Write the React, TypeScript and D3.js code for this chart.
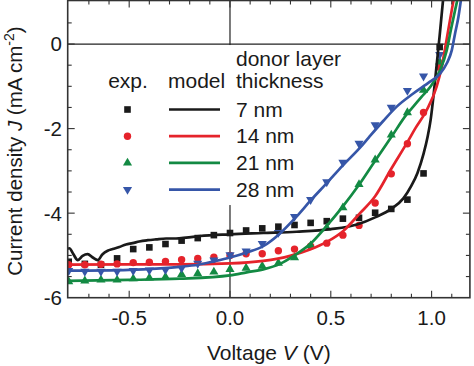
import React, { useEffect, useRef } from "react";
import * as d3 from "d3";

// measured points, voltage in V
const voltages = [
  -0.8, -0.72, -0.64, -0.56, -0.48, -0.4, -0.32, -0.24, -0.16, -0.08, 0, 0.08,
  0.16, 0.24, 0.32, 0.4, 0.48, 0.56, 0.64, 0.72, 0.8, 0.88, 0.96, 1.04,
];
// current density in mA cm^-2
const exp7 = [
  -5.15, -5.2, -5.22, -5.07, -4.85, -4.81, -4.73, -4.65, -4.59, -4.52, -4.47,
  -4.41, -4.36, -4.32, -4.28, -4.23, -4.19, -4.13, -4.11, -3.99, -3.9, -3.68,
  -3.06, -0.07,
];
const exp14 = [
  -5.22, -5.22, -5.21, -5.2, -5.17, -5.16, -5.14, -5.1, -5.07, -5.04, -5.0,
  -4.96, -4.96, -4.89, -4.85, -4.78, -4.71, -4.52, -4.29, -3.76, -3.07, -2.36,
  -1.62, -0.55,
];
const exp21 = [
  -5.62, -5.6, -5.58, -5.58, -5.55, -5.53, -5.51, -5.45, -5.43, -5.39, -5.33,
  -5.3, -5.25, -5.18, -5.05, -4.77, -4.35, -3.87, -3.32, -2.74, -2.15, -1.62,
  -1.09, -0.42,
];
const exp28 = [
  -5.36, -5.38, -5.38, -5.38, -5.36, -5.35, -5.34, -5.3, -5.19, -5.11, -4.99,
  -4.9, -4.72, -4.46, -4.08, -3.68, -3.26, -2.8, -2.35, -1.91, -1.5, -1.1,
  -0.76, -0.25,
];

// model curves [V, J]
const model7: [number, number][] = [
  [-0.81, -4.85], [-0.797, -4.83], [-0.777, -4.97], [-0.755, -5.11],
  [-0.731, -5.01], [-0.706, -4.97], [-0.681, -5.05], [-0.656, -5.11],
  [-0.632, -4.97], [-0.607, -4.89], [-0.582, -4.85], [-0.549, -4.8],
  [-0.516, -4.74], [-0.483, -4.71], [-0.45, -4.67], [-0.408, -4.64],
  [-0.367, -4.62], [-0.317, -4.6], [-0.268, -4.6], [-0.218, -4.58],
  [-0.149, -4.54], [0, -4.5], [0.165, -4.47], [0.33, -4.44], [0.5, -4.38],
  [0.63, -4.27], [0.72, -4.1], [0.8, -3.9], [0.86, -3.65], [0.9, -3.35],
  [0.93, -3.05], [0.96, -2.6], [0.98, -2.2], [0.995, -1.8], [1.01, -1.2],
  [1.025, -0.5], [1.04, 0.2], [1.06, 1.2],
];
const model14: [number, number][] = [
  [-0.81, -5.22], [-0.4, -5.21], [-0.25, -5.21], [0, -5.19], [0.165, -5.13],
  [0.298, -5.01], [0.397, -4.86], [0.48, -4.68], [0.562, -4.42],
  [0.645, -4.0], [0.72, -3.6], [0.8, -2.95], [0.88, -2.32], [0.92, -1.99],
  [0.976, -1.56], [1.025, -1.01], [1.05, -0.54], [1.071, 0.01],
  [1.091, 0.56], [1.115, 1.2],
];
const model21: [number, number][] = [
  [-0.81, -5.6], [-0.5, -5.58], [-0.25, -5.55], [0, -5.47], [0.083, -5.4],
  [0.165, -5.33], [0.248, -5.2], [0.32, -5.0], [0.4, -4.72], [0.48, -4.3],
  [0.56, -3.84], [0.64, -3.33], [0.72, -2.76], [0.8, -2.2], [0.88, -1.64],
  [0.909, -1.48], [0.95, -1.25], [0.992, -1.02], [1.042, -0.62],
  [1.075, -0.15], [1.095, 0.32], [1.116, 0.79], [1.135, 1.2],
];
const model28: [number, number][] = [
  [-0.81, -5.36], [-0.5, -5.34], [-0.25, -5.27], [-0.16, -5.22],
  [-0.08, -5.14], [0, -5.05], [0.083, -4.93], [0.165, -4.78], [0.248, -4.48],
  [0.33, -4.08], [0.4, -3.7], [0.48, -3.29], [0.56, -2.87], [0.645, -2.45],
  [0.69, -2.2], [0.76, -1.82], [0.827, -1.48], [0.909, -1.17],
  [0.992, -0.89], [1.042, -0.7], [1.075, -0.46], [1.1, -0.15],
  [1.116, 0.24], [1.133, 0.64], [1.15, 1.2],
];

const thicknessLabels = ["7 nm", "14 nm", "21 nm", "28 nm"];
const xMajorTicks = [-0.5, 0, 0.5, 1.0];
const xTickLabels = ["-0.5", "0.0", "0.5", "1.0"];
const yMajorTicks = [-6, -4, -2, 0];
const yTickLabels = ["-6", "-4", "-2", "0"];

const colors = ["#1a1a1a", "#e5232b", "#138a43", "#3656a8"];
const markers = ["square", "circle", "triangle", "down"];

const App: React.FC = () => {
  const svgRef = useRef<SVGSVGElement | null>(null);
  const width = 474;
  const height = 366;
  const font = "Arial, 'Liberation Sans', Helvetica, sans-serif";

  useEffect(() => {
    if (!svgRef.current) return;
    const svg = d3.select(svgRef.current);
    svg.selectAll("*").remove();

    const x = d3.scaleLinear().domain([-0.805, 1.19]).range([67.7, 469.9]);
    const y = d3.scaleLinear().domain([-6, 1.03]).range([297.7, 0.5]);
    const [x0, x1] = x.range();
    const [y0, y1] = y.range();

    const expSeries = [exp7, exp14, exp21, exp28];
    const modelSeries = [model7, model14, model21, model28];

    svg
      .append("clipPath")
      .attr("id", "plot-clip")
      .append("rect")
      .attr("x", x0)
      .attr("y", y1)
      .attr("width", x1 - x0)
      .attr("height", y0 - y1);

    // zero lines
    svg
      .append("line")
      .attr("x1", x0)
      .attr("x2", x1)
      .attr("y1", y(0))
      .attr("y2", y(0))
      .attr("stroke", "#222")
      .attr("stroke-width", 1.2);
    svg
      .append("line")
      .attr("x1", x(0))
      .attr("x2", x(0))
      .attr("y1", y1)
      .attr("y2", y0)
      .attr("stroke", "#222")
      .attr("stroke-width", 1.2);

    // legend background hides the zero line behind it
    svg
      .append("rect")
      .attr("x", 100)
      .attr("y", y(0) + 1)
      .attr("width", 200)
      .attr("height", 160)
      .attr("fill", "#fff");

    const plot = svg.append("g").attr("clip-path", "url(#plot-clip)");

    const line = d3
      .line<[number, number]>()
      .x((d) => x(d[0]))
      .y((d) => y(d[1]))
      .curve(d3.curveMonotoneX);

    const drawMarker = (
      g: d3.Selection<SVGGElement, unknown, null, undefined>,
      kind: string,
      cx: number,
      cy: number,
      color: string
    ) => {
      if (kind === "square") {
        g.append("rect")
          .attr("x", cx - 3.3)
          .attr("y", cy - 3.3)
          .attr("width", 6.6)
          .attr("height", 6.6)
          .attr("fill", color);
      } else if (kind === "circle") {
        g.append("circle")
          .attr("cx", cx)
          .attr("cy", cy)
          .attr("r", 3.7)
          .attr("fill", color);
      } else {
        g.append("path")
          .attr("d", d3.symbol(d3.symbolTriangle, 36)() as string)
          .attr(
            "transform",
            `translate(${cx},${cy})${kind === "down" ? " rotate(180)" : ""}`
          )
          .attr("fill", color);
      }
    };

    // experimental points
    expSeries.forEach((vals, i) => {
      const g = plot.append("g");
      vals.forEach((v, j) => {
        drawMarker(g, markers[i], x(voltages[j]), y(v), colors[i]);
      });
    });

    // model curves
    modelSeries.forEach((pts, i) => {
      plot
        .append("path")
        .datum(pts)
        .attr("fill", "none")
        .attr("stroke", colors[i])
        .attr("stroke-width", 2.7)
        .attr("stroke-linejoin", "round")
        .attr("d", line);
    });

    // frame
    svg
      .append("rect")
      .attr("x", x0)
      .attr("y", y1)
      .attr("width", x1 - x0)
      .attr("height", y0 - y1)
      .attr("fill", "none")
      .attr("stroke", "#333")
      .attr("stroke-width", 1.6);

    // ticks, pointing inward on all four sides
    const ticks = svg.append("g").attr("stroke", "#333").attr("stroke-width", 1.1);
    const xMinor = d3.range(-7, 12).map((i) => i / 10);
    xMinor.forEach((v) => {
      const major = xMajorTicks.some((m) => Math.abs(m - v) < 1e-6);
      const len = major ? 7 : 4;
      ticks.append("line").attr("x1", x(v)).attr("x2", x(v)).attr("y1", y0).attr("y2", y0 - len);
      ticks.append("line").attr("x1", x(v)).attr("x2", x(v)).attr("y1", y1).attr("y2", y1 + len);
    });
    const yMinor = d3.range(-11, 2).map((i) => i / 2);
    yMinor.forEach((v) => {
      const major = yMajorTicks.includes(v);
      const len = major ? 7 : 4;
      ticks.append("line").attr("x1", x0).attr("x2", x0 + len).attr("y1", y(v)).attr("y2", y(v));
      ticks.append("line").attr("x1", x1).attr("x2", x1 - len).attr("y1", y(v)).attr("y2", y(v));
    });

    // tick labels
    xMajorTicks.forEach((v, i) => {
      svg
        .append("text")
        .attr("x", x(v))
        .attr("y", 325)
        .attr("text-anchor", "middle")
        .attr("font-size", 20.5)
        .attr("fill", "#1a1a1a")
        .text(xTickLabels[i]);
    });
    yMajorTicks.forEach((v, i) => {
      svg
        .append("text")
        .attr("x", 62)
        .attr("y", y(v))
        .attr("dy", "0.36em")
        .attr("text-anchor", "end")
        .attr("font-size", 20.5)
        .attr("fill", "#1a1a1a")
        .text(yTickLabels[i]);
    });

    // axis titles
    const xt = svg
      .append("text")
      .attr("x", (x0 + x1) / 2)
      .attr("y", 360)
      .attr("text-anchor", "middle")
      .attr("font-size", 21)
      .attr("fill", "#1a1a1a");
    xt.append("tspan").text("Voltage ");
    xt.append("tspan").attr("font-style", "italic").text("V");
    xt.append("tspan").text(" (V)");

    const yt = svg
      .append("text")
      .attr("transform", `translate(22,${(y0 + y1) / 2 + 2}) rotate(-90)`)
      .attr("text-anchor", "middle")
      .attr("font-size", 20.5)
      .attr("fill", "#1a1a1a");
    yt.append("tspan").text("Current density ");
    yt.append("tspan").attr("font-style", "italic").text("J");
    yt.append("tspan").text(" (mA cm");
    yt.append("tspan").attr("font-size", 14).attr("dy", -8).text("-2");
    yt.append("tspan").attr("dy", 8).text(")");

    // legend
    const legend = svg
      .append("g")
      .attr("font-size", 21)
      .attr("fill", "#1a1a1a");
    legend.append("text").attr("x", 236).attr("y", 66).text("donor layer");
    legend.append("text").attr("x", 236).attr("y", 88).text("thickness");
    legend.append("text").attr("x", 128).attr("y", 88).attr("text-anchor", "middle").text("exp.");
    legend.append("text").attr("x", 168).attr("y", 88).text("model");
    thicknessLabels.forEach((lab, i) => {
      const base = 116.5 + i * 26.7;
      const cy = base - 7;
      const g = legend.append("g");
      drawMarker(g, markers[i], 127.5, cy, colors[i]);
      g.append("line")
        .attr("x1", 169)
        .attr("x2", 220)
        .attr("y1", cy)
        .attr("y2", cy)
        .attr("stroke", colors[i])
        .attr("stroke-width", 2.7);
      legend.append("text").attr("x", 236).attr("y", base).text(lab);
    });
  }, []);

  return (
    <svg
      ref={svgRef}
      width={width}
      height={height}
      style={{ position: "absolute", left: 0, top: 0, fontFamily: font, background: "#fff" }}
    ></svg>
  );
};

export default App;
